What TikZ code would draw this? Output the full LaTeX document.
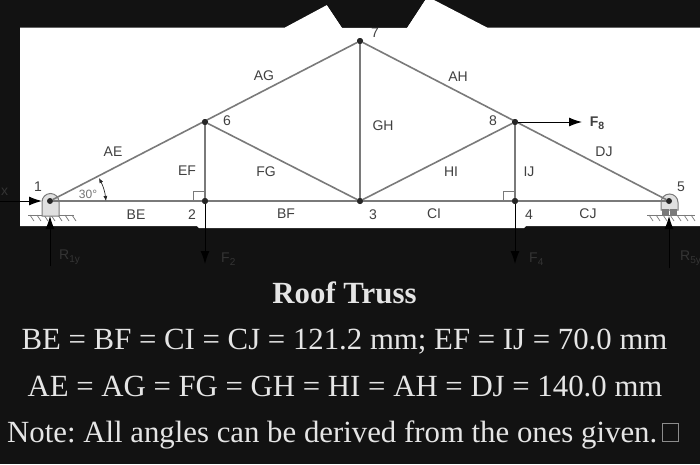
\documentclass[tikz,border=0pt]{standalone}
\usepackage{fontspec}
\setmainfont{Liberation Serif}
\setsansfont{Liberation Sans}
\usetikzlibrary{arrows.meta, positioning}
\definecolor{bgblack}{HTML}{121212}
\definecolor{memb}{HTML}{7A7A7A}
\definecolor{faint}{HTML}{343434}
\tikzset{
	joint/.style={circle, fill=black!85, inner sep=0pt, minimum size=6pt},
	member/.style={draw=memb, line width=1.6pt},
	lbl/.style={font=\sffamily\fontsize{14}{16}\selectfont, text=black!75, inner sep=0pt, yshift=-1pt},
	dimlabel/.style={font=\sffamily\fontsize{12}{14}\selectfont, text=black!55, inner sep=0pt},
	dark/.style={font=\sffamily\fontsize{14}{16}\selectfont, text=faint, inner sep=0pt, anchor=west},
	load/.style={draw=black, line width=1pt, -{Latex[length=13pt,width=9pt]}},
	caption/.style={font=\frenchspacing\fontsize{30.8}{34}\selectfont, text=white!90!black, inner sep=0pt}
}
\begin{document}
\begin{tikzpicture}[x=1pt, y=-1pt]
	\useasboundingbox (0,0) rectangle (700,464);
	\fill[bgblack] (0,0) rectangle (700,464);
	% paper
	\fill[white] (20,27.5) -- (285,27.5) -- (327,5) -- (342,27.5) -- (407,27.5) -- (425,0) -- (434,0) -- (487,27.5) -- (700,27.5) -- (700,226) -- (526,226) -- (524,228) -- (199,228) -- (197,226) -- (20,226) -- cycle;
	% joints
	\node[joint] (n1) at (50,201) {};
	\node[joint] (n2) at (205,201) {};
	\node[joint] (n3) at (360,201) {};
	\node[joint] (n4) at (515,201) {};
	\node[joint] (n5) at (669,201) {};
	\node[joint] (n6) at (205,122) {};
	\node[joint] (n7) at (360,41) {};
	\node[joint] (n8) at (515,122) {};
	% free ends of the loads
	\coordinate (inx) at (0,201);
	\coordinate (r1) at (50,266);
	\coordinate (r5) at (669,268);
	\coordinate (f2) at (205,264);
	\coordinate (f4) at (515,264);
	\coordinate (f8) at (582,122);
	% ground
	\draw[memb, line width=0.8pt] (28,215) -- (74,215);
	\draw[memb, line width=0.8pt] (647,215) -- (695,215);
	\foreach \x in {30,37,...,72} {
		\draw[memb, line width=0.7pt] (\x,215) -- ++(4,6);
	}
	\foreach \x in {649,656,...,691} {
		\draw[memb, line width=0.7pt] (\x,215) -- ++(4,6);
	}
	% supports
	\filldraw[fill=black!12, draw=memb, line width=1pt] (42,216) -- (42,202) arc[start angle=180, end angle=360, radius=8.5] -- (59,216) -- cycle;
	\filldraw[fill=black!12, draw=memb, line width=1pt] (661,210) -- (661,202.5) arc[start angle=180, end angle=360, radius=8.5] -- (678,210) -- cycle;
	\fill[memb] (662,209) rectangle (669,216);
	\fill[memb] (670,209) rectangle (677,216);
	% members
	\draw[member] (n1) -- (n5);
	\draw[member] (n1) -- (n7) -- (n5);
	\draw[member] (n6) -- (n2);
	\draw[member] (n7) -- (n3);
	\draw[member] (n8) -- (n4);
	\draw[member] (n6) -- (n3) -- (n8);
	% right angle marks
	\draw[memb, line width=0.8pt] (193,201) |- (205,191);
	\draw[memb, line width=0.8pt] (503,201) |- (515,191);
	% redraw joints on top
	\foreach \j in {n1,n2,n3,n4,n5,n6,n7,n8} {
		\fill[black!85] (\j) circle (3pt);
	}
	% loads
	\draw[load] (inx) -- (42,201);
	\draw[load] (r1) -- (50,216);
	\draw[load] (r5) -- (669,216);
	\draw[load] (n2) -- (f2);
	\draw[load] (n4) -- (f4);
	\draw[load] (n8) -- (f8);
	\draw[black!85, line width=0.7pt, {Latex[length=5pt,width=4pt]}-{Latex[length=5pt,width=4pt]}] (99,178) to[bend left=10] (106,201);
	% labels
	\node[dark] at (1,192) {x};
	\node[lbl] at (38,186) {1};
	\node[dimlabel] at (88,194) {30°};
	\node[lbl] at (113,151) {AE};
	\node[lbl] at (136,214) {BE};
	\node[lbl] at (192,214) {2};
	\node[lbl] at (187,170) {EF};
	\node[lbl] at (227,120) {6};
	\node[lbl] at (264,75) {AG};
	\node[lbl] at (266,171) {FG};
	\node[lbl] at (286,213) {BF};
	\node[lbl] at (383,125) {GH};
	\node[lbl] (n7label) at (375,32) {7};
	\node[lbl] at (458,76) {AH};
	\node[lbl] at (451,171) {HI};
	\node[lbl] at (373,214) {3};
	\node[lbl] at (434,213) {CI};
	\node[lbl] at (493,120) {8};
	\node[lbl] at (529,171) {IJ};
	\node[lbl] at (529,214) {4};
	\node[lbl] at (588,213) {CJ};
	\node[lbl] at (604,151) {DJ};
	\node[lbl] at (681,186) {5};
	\node[lbl, font=\sffamily\bfseries\fontsize{14}{16}\selectfont] at (597,122) {F\raisebox{-3pt}{\fontsize{10.5}{11}\selectfont 8}};
	\node[dark] at (59,257) {R\raisebox{-3pt}{\fontsize{10}{11}\selectfont 1y}};
	\node[dark] at (221,259) {F\raisebox{-3pt}{\fontsize{10}{11}\selectfont 2}};
	\node[dark] at (529,259) {F\raisebox{-3pt}{\fontsize{10}{11}\selectfont 4}};
	\node[dark] at (680,258) {R\raisebox{-3pt}{\fontsize{10}{11}\selectfont 5y}};
	% the top of the 7 lies off the paper
	\fill[bgblack] (342,27.5) -- (407,27.5) -- (425,0) -- (327,0) -- (327,5) -- cycle;
	% caption
	\node[caption, font=\bfseries\fontsize{30.8}{34}\selectfont] (title) at (344.5,293) {Roof Truss};
	\node[caption] (line1) at (344.5,342) {BE = BF = CI = CJ = 121.2 mm; EF = IJ = 70.0 mm};
	\node[caption] (line2) at (345,386) {AE = AG = FG = GH = HI = AH = DJ = 140.0 mm};
	\node[caption, anchor=west] (note) at (7,434.5) {Note: All angles can be derived from the ones given.};
	\draw[black!45!white, line width=1pt] (662,423) rectangle (678,441);
\end{tikzpicture}
\end{document}
